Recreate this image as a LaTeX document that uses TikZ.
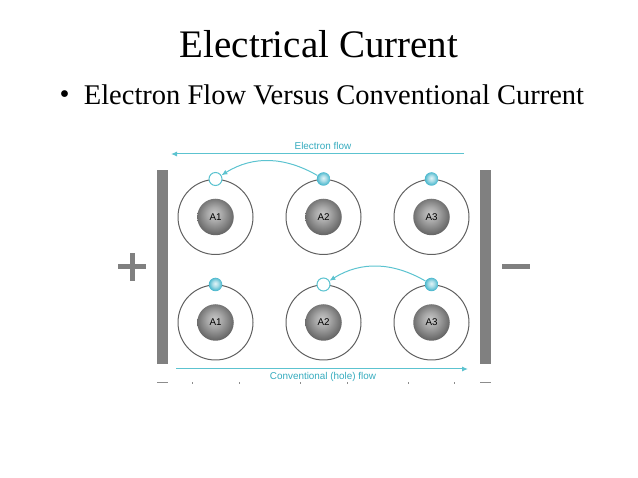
\documentclass[tikz,border=0pt]{standalone}
\usepackage{fontspec}
\setmainfont{Liberation Serif}
\setsansfont{Liberation Sans}
\usepackage{xcolor}
\usetikzlibrary{arrows.meta,positioning}
\definecolor{flowteal}{HTML}{5CC3D0}
\definecolor{flowtext}{HTML}{35ABBE}
\definecolor{platey}{HTML}{808080}
\definecolor{electronrim}{HTML}{3FB3CA}
\pgfdeclareradialshading{nucleusball}{\pgfpoint{-2bp}{5bp}}{
  color(0bp)=(black!22); color(10bp)=(black!34); color(20bp)=(black!50); color(30bp)=(black!66); color(40bp)=(black!74); color(50bp)=(black!72)}
\pgfdeclareradialshading{electronball}{\pgfpoint{-1bp}{4bp}}{
  color(0bp)=(white!85!electronrim); color(11bp)=(white!55!electronrim); color(26bp)=(electronrim); color(50bp)=(electronrim!90!black)}
\begin{document}
\begin{tikzpicture}[
    x=1pt, y=-1pt,
    node distance=32pt,%orbit to orbit
    orbit/.style={
        % The shape:
        circle,
        minimum size=75pt,
        inner sep=0pt,
        draw=black!62,
        line width=1pt},
    nucleus/.style={
        circle,
        minimum size=36.5pt,
        inner sep=0pt,
        shading=nucleusball,
        % The fonts
        font=\sffamily\fontsize{9.8}{9.8}\selectfont},
    electron/.style={
        circle,
        minimum size=13.5pt,
        inner sep=0pt,
        shading=electronball},
    hole/.style={
        circle,
        minimum size=13pt,
        inner sep=0pt,
        fill=white,
        draw=flowteal,
        line width=1pt},
    plate/.style={
        rectangle,
        minimum width=10.5pt,
        minimum height=194pt,
        inner sep=0pt,
        fill=platey},
    sign/.style={
        fill=platey},
    flow/.style={
        draw=flowteal,
        line width=1pt,
        -{Latex[length=6pt,width=5pt]}},
    flowlabel/.style={
        text=flowtext,
        inner sep=0pt,
        font=\sffamily\fontsize{9.9}{9.9}\selectfont},
    cutmark/.style={
        fill=black!45,
        inner sep=0pt}]
  \useasboundingbox (0,0) rectangle (638,478);
  % heading
  \node (title) at (319,44) [font=\fontsize{39}{39}\selectfont] {Electrical Current};
  \node (bullet) at (64.5,97.5) [font=\fontsize{28.5}{28.5}\selectfont] {\textbullet};
  \node (subtitle) at (334,94.5) [font=\fontsize{28.5}{28.5}\selectfont] {Electron Flow Versus Conventional Current};
  % plates and signs
  \node (left plate) at (162.7,267) [plate] {};
  \node (right plate) at (485.7,267) [plate] {};
  \fill[sign] (118,264.5) rectangle (146,269.5);
  \fill[sign] (129.5,253) rectangle (134.5,281);
  \fill[sign] (502,264.5) rectangle (530,269.5);
  % upper row
  \node (orbit a) at (215.5,217) [orbit] {};
  \node (orbit b) [orbit,right=of orbit a] {};
  \node (orbit c) [orbit,right=of orbit b] {};
  \node (atom a) at (orbit a) [nucleus] {A1};
  \node (atom b) at (orbit b) [nucleus] {A2};
  \node (atom c) at (orbit c) [nucleus] {A3};
  \node (hole a) at (orbit a.north) [hole] {};
  \node (electron b) at (orbit b.north) [electron] {};
  \node (electron c) at (orbit c.north) [electron] {};
  % lower row
  \node (orbit d) [orbit,below=29.5pt of orbit a] {};
  \node (orbit e) [orbit,right=of orbit d] {};
  \node (orbit f) [orbit,right=of orbit e] {};
  \node (atom d) at (orbit d) [nucleus] {A1};
  \node (atom e) at (orbit e) [nucleus] {A2};
  \node (atom f) at (orbit f) [nucleus] {A3};
  \node (electron d) at (orbit d.north) [electron] {};
  \node (hole e) at (orbit e.north) [hole] {};
  \node (electron f) at (orbit f.north) [electron] {};
  % jumps
  \draw[flow] (electron b) to[out=150,in=32] (hole a);
  \draw[flow] (electron f) to[out=150,in=32] (hole e);
  % flow arrows
  \coordinate (electron start) at (464,154);
  \coordinate (electron end) at (171,154);
  \coordinate (hole start) at (176,369);
  \coordinate (hole end) at (468,369);
  \draw[flow] (electron start) -- (electron end);
  \draw[flow] (hole start) -- (hole end);
  \node (electron label) at (323,146) [flowlabel] {Electron flow};
  \node (hole label) at (323,377) [flowlabel] {Conventional (hole) flow};
  % cut off marks along the lower edge
  \fill[cutmark] (157,382.5) rectangle (168,383.5);
  \fill[cutmark] (480,382.5) rectangle (491,383.5);
  \fill[cutmark] (191.5,382.5) rectangle (193,384);
  \fill[cutmark] (238.5,382.5) rectangle (240,384);
  \fill[cutmark] (299.5,382.5) rectangle (301,384);
  \fill[cutmark] (346.5,382.5) rectangle (348,384);
  \fill[cutmark] (407.5,382.5) rectangle (409,384);
  \fill[cutmark] (453.5,382.5) rectangle (455,384);
\end{tikzpicture}
\end{document}
